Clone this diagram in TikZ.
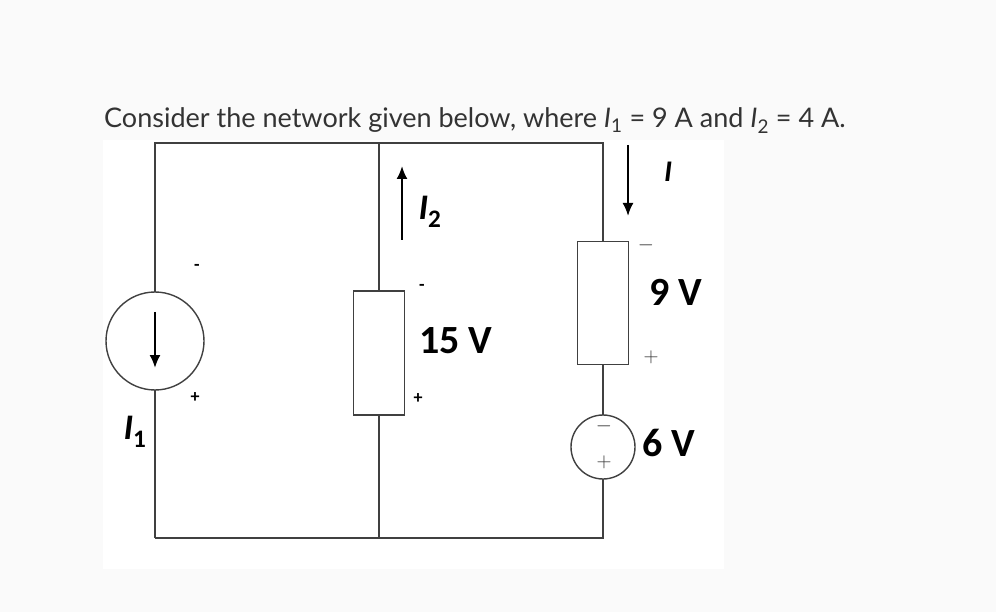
\documentclass[tikz,border=0pt]{standalone}
\usepackage{fontspec}
\usetikzlibrary{arrows.meta}
\setmainfont{Lato}
\newfontfamily\calfont{Carlito}
\begin{document}
\begin{tikzpicture}[x=1pt,y=-1pt,
  w/.style={draw=black!75,line width=1.6pt},
  el/.style={draw=black!75,line width=1.4pt,fill=white},
  lab/.style={font=\calfont\bfseries\fontsize{40}{40}\selectfont,inner sep=0pt},
  sg/.style={font=\calfont\bfseries\fontsize{18}{18}\selectfont,inner sep=0pt},
  arr/.style={line width=2pt,-{Latex[length=13pt,width=11pt]}}]
\fill[black!2] (0,0) rectangle (996,612);
\useasboundingbox (0,0) rectangle (996,612);
\fill[white] (103,140) rectangle (724,569);
\node[anchor=base west,inner sep=0pt,font=\fontsize{27}{27}\selectfont,text=black!80] (title) at (104,128) {Consider the network given below, where \textit{I}\textsubscript{1} = 9 A and \textit{I}\textsubscript{2} = 4 A.};
\coordinate (tl) at (155,143); \coordinate (tm) at (379,143); \coordinate (tr) at (603,143);
\coordinate (bl) at (155,538); \coordinate (bm) at (379,538); \coordinate (br) at (603,538);
\draw[w] (bl) -- (tl) -- (tr) -- (br) -- (bl);
\draw[w] (tm) -- (bm);
\node[el,circle,minimum size=98pt,inner sep=0pt] (cs) at (155,341) {};
\draw[arr] (155,312) -- (155,368);
\node[el,rectangle,minimum width=51pt,minimum height=124pt,inner sep=0pt] (r15) at (379,353) {};
\node[el,rectangle,minimum width=51pt,minimum height=123pt,inner sep=0pt] (r9) at (603,303) {};
\node[el,circle,minimum size=64pt,inner sep=0pt] (vs) at (603,447) {};
\node[font=\fontsize{20}{20}\selectfont,inner sep=0pt,text=black!80] (vm) at (604,426) {$-$};
\node[font=\fontsize{20}{20}\selectfont,inner sep=0pt,text=black!80] (vp) at (604,462) {$+$};
\coordinate (a2s) at (402,240); \coordinate (a2e) at (402,166);
\draw[arr] (a2s) -- (a2e);
\coordinate (a1s) at (628,145); \coordinate (a1e) at (628,216);
\draw[arr] (a1s) -- (a1e);
\node[lab,font=\calfont\bfseries\itshape\fontsize{36}{36}\selectfont] (li2) at (430,212) {I\textsubscript{\upshape 2}};
\node[lab,font=\calfont\bfseries\itshape\fontsize{30}{30}\selectfont] (li) at (668,172) {I};
\node[lab,font=\calfont\bfseries\itshape\fontsize{36}{36}\selectfont] (li1) at (135,432) {I\textsubscript{\upshape 1}};
\node[lab] (l15) at (456,341) {15 V};
\node[lab] (l9) at (676,292) {9 V};
\node[lab] (l6) at (669,443) {6 V};
\node[sg] (m1) at (197,267) {-};
\node[sg] (p1) at (195,398) {+};
\node[sg] (m2) at (422,287) {-};
\node[sg] (p2) at (418,399) {+};
\node[font=\fontsize{20}{20}\selectfont,inner sep=0pt,text=black!80] (m3) at (646,245) {$-$};
\node[font=\fontsize{20}{20}\selectfont,inner sep=0pt,text=black!80] (p3) at (651,357) {$+$};
\end{tikzpicture}
\end{document}
